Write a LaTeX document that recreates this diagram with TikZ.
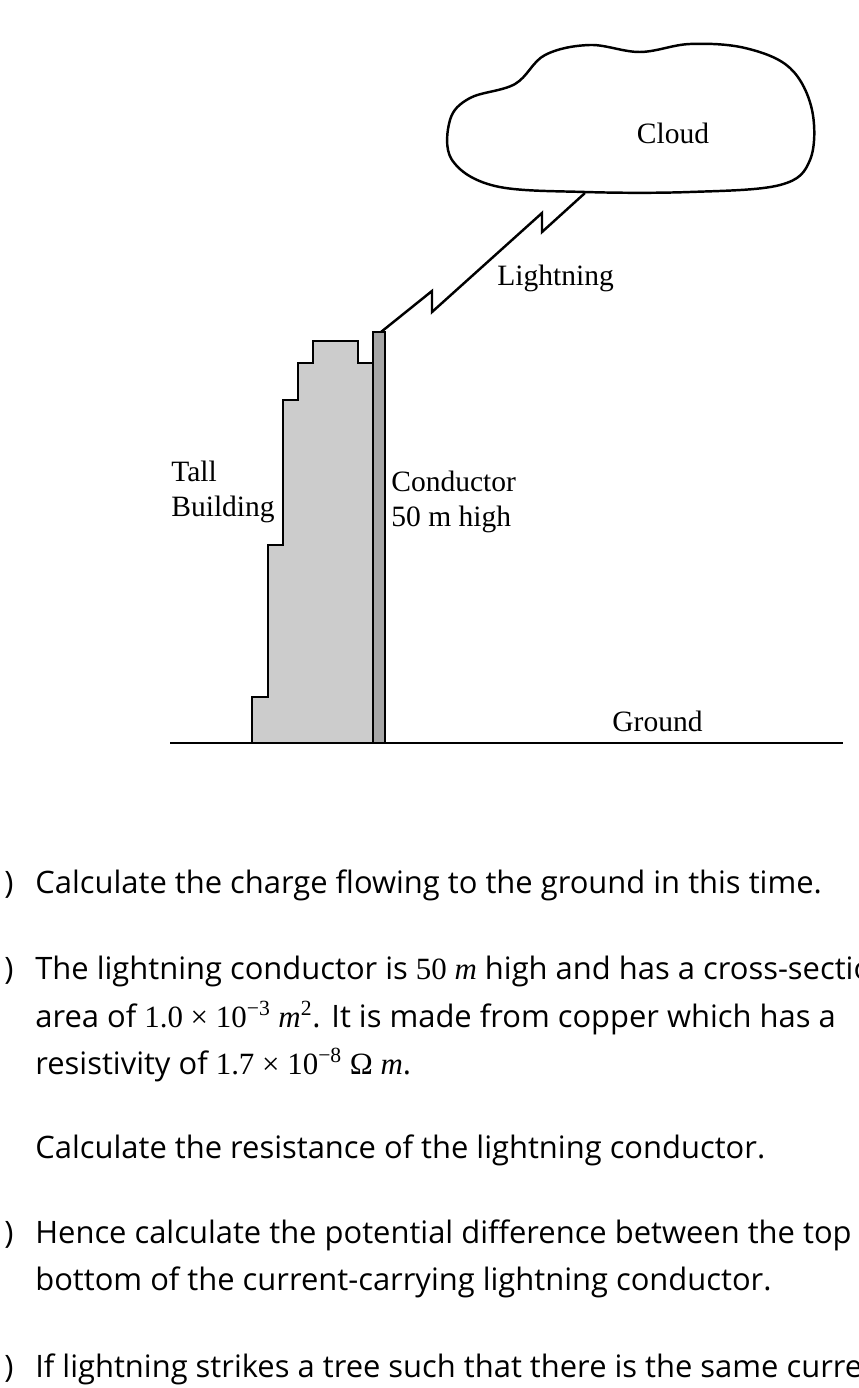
\documentclass[tikz,border=0pt]{standalone}
\usepackage{fontspec}
\setmainfont{Open Sans}
\newfontfamily\tms{Liberation Serif}
\begin{document}
\begin{tikzpicture}[x=0.02cm,y=-0.02cm,
  lbl/.style={font=\tms\fontsize{16.8}{17}\selectfont,inner sep=0},
  txt/.style={font=\fontsize{17.6}{19}\selectfont,anchor=base west,inner sep=0},
  ln/.style={line width=1.4pt,line join=miter}]
\useasboundingbox (0,0) rectangle (858,1388);
\clip (0,0) rectangle (858,1388);
% building
\draw[ln,fill=black!20] (252,743) -- (252,697) -- (268,697) -- (268,545) -- (283,545) -- (283,400) -- (298,400) -- (298,363) -- (313,363) -- (313,341) -- (358,341) -- (358,363) -- (373,363) -- (373,743);
\draw[ln,fill=black!35] (373,743) rectangle (385,332);
\coordinate (ctop) at (381,332);
\coordinate (cbase) at (585,193);
% lightning
\draw[ln,line join=miter] (ctop) -- (432,291) -- (432,312) -- (542,213) -- (542,232) -- (cbase);
% cloud
\draw[ln] plot[smooth cycle,tension=0.6] coordinates {(585,192) (495,186) (452,160) (450,120) (470,98) (515,84) (545,55) (590,45) (640,52) (690,44) (745,48) (790,68) (812,110) (810,160) (780,185) (690,192)};
% ground
\draw[ln] (170,743) -- (843,743);
\node[lbl] (cloud) at (673,133) {Cloud};
\node[lbl,anchor=base west] (light) at (497,286) {Lightning};
\node[lbl,anchor=base west] (tall) at (171,481) {Tall};
\node[lbl,anchor=base west] (bld) at (171,516) {Building};
\node[lbl,anchor=base west] (cond) at (391,491) {Conductor};
\node[lbl,anchor=base west] (high) at (391,526) {50 m high};
\node[lbl,anchor=base west] (gnd) at (612,731) {Ground};
% text
\node[txt] (p1) at (4,893) {)};
\node[txt] (t1) at (35,893) {Calculate the charge flowing to the ground in this time.};
\node[txt] (p2) at (4,979) {)};
\node[txt] (t2) at (35,979) {The lightning conductor is {\tms 50 \textit{m}} high and has a cross-sectional};
\node[txt] (t3) at (35,1027) {area of {\tms 1.0 × 10\textsuperscript{−3} \textit{m}\textsuperscript{2}}. It is made from copper which has a};
\node[txt] (t4) at (35,1074) {resistivity of {\tms 1.7 × 10\textsuperscript{−8} Ω \textit{m}}.};
\node[txt] (t5) at (35,1158) {Calculate the resistance of the lightning conductor.};
\node[txt] (p3) at (4,1243) {)};
\node[txt] (t6) at (35,1243) {Hence calculate the potential difference between the top and};
\node[txt] (t7) at (35,1290) {bottom of the current-carrying lightning conductor.};
\node[txt] (p4) at (4,1377) {)};
\node[txt] (t8) at (35,1377) {If lightning strikes a tree such that there is the same current};
\end{tikzpicture}
\end{document}
